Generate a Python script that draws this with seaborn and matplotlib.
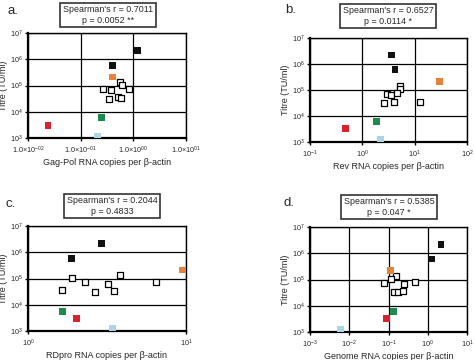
import matplotlib
matplotlib.use("Agg")
import matplotlib.pyplot as plt
import seaborn as sns
import pandas as pd
import numpy as np

sns.set_style("white")
plt.rcParams['font.family'] = ['Liberation Sans', 'DejaVu Sans']
plt.rcParams['mathtext.fontset'] = 'custom'
plt.rcParams['mathtext.rm'] = 'Liberation Sans'
plt.rcParams['mathtext.it'] = 'Liberation Sans'

# group order: black1, black2, orange, open x8, green, red, lightblue
groups = ["black", "black", "orange", "open", "open", "open", "open", "open",
          "open", "open", "open", "green", "red", "lightblue"]

gagpol_x = [1.19, 0.40, 0.40, 0.55, 0.60, 0.81, 0.26, 0.38, 0.35, 0.51, 0.59, 0.25, 0.024, 0.21]
gagpol_y = [2.1e6, 5.9e5, 2.1e5, 1.38e5, 1.05e5, 7.5e4, 7.1e4, 6.5e4, 3.0e4, 3.6e4, 3.3e4, 6.0e3, 3.1e3, 1.2e3]

rev_x = [3.6, 4.2, 30, 5.2, 5.2, 3.0, 3.5, 4.5, 2.6, 4.1, 12.8, 1.88, 0.47, 2.24]
rev_y = [2.2e6, 6.0e5, 2.1e5, 1.4e5, 1.05e5, 7.2e4, 6.4e4, 7.6e4, 3.1e4, 3.6e4, 3.4e4, 6.2e3, 3.2e3, 1.3e3]

rdpro_x = [2.91, 1.88, 9.55, 3.83, 1.90, 2.29, 3.21, 6.48, 1.64, 2.64, 3.52, 1.66, 2.02, 3.42]
rdpro_y = [2.1e6, 5.9e5, 2.1e5, 1.35e5, 1.06e5, 7.5e4, 6.4e4, 7.6e4, 3.6e4, 3.0e4, 3.3e4, 5.7e3, 3.1e3, 1.26e3]

genome_x = [2.18, 1.22, 0.115, 0.157, 0.117, 0.078, 0.255, 0.467, 0.142, 0.176, 0.236, 0.131, 0.087, 0.006]
genome_y = [2.2e6, 6.0e5, 2.2e5, 1.35e5, 1.06e5, 7.4e4, 6.6e4, 7.7e4, 3.2e4, 3.4e4, 3.7e4, 6.0e3, 3.2e3, 1.26e3]

panel_letters = ["a.", "b.", "c.", "d."]
xlabels = ["Gag-Pol RNA copies per β-actin", "Rev RNA copies per β-actin",
           "RDpro RNA copies per β-actin", "Genome RNA copies per β-actin"]
stats_text = ["Spearman's r = 0.7011\np = 0.0052 **",
              "Spearman's r = 0.6527\np = 0.0114 *",
              "Spearman's r = 0.2044\np = 0.4833",
              "Spearman's r = 0.5385\np = 0.047 *"]
xlims = [(1e-2, 1e1), (1e-1, 1e2), (1e0, 1e1), (1e-3, 1e1)]
ylabel = "Titre (TU/ml)"

palette = {"black": "#111111", "orange": "#E8823A", "green": "#1E8A50",
           "red": "#D8222E", "lightblue": "#A9D6E4"}

fig = plt.figure(figsize=(4.74, 3.6), dpi=100)
positions = [
    (28, 33, 186, 138),
    (310, 38, 467, 142),
    (28, 226, 186, 331),
    (310, 227, 467, 332),
]
W, H = 474, 360
datasets = [(gagpol_x, gagpol_y), (rev_x, rev_y), (rdpro_x, rdpro_y), (genome_x, genome_y)]
letter_pos = [(7, 11), (285, 10), (6, 204), (284, 203)]
box_pos = [(108, 15), (388, 16), (112, 206), (389, 207)]

for i, ((x0, y0, x1, y1), (xs, ys)) in enumerate(zip(positions, datasets)):
    ax = fig.add_axes([x0 / W, 1 - y1 / H, (x1 - x0) / W, (y1 - y0) / H])
    df = pd.DataFrame({"x": xs, "y": ys, "g": groups})
    filled = df[df.g != "open"]
    opened = df[df.g == "open"]
    ax.set_xscale("log")
    ax.set_yscale("log")
    sns.scatterplot(data=opened, x="x", y="y", ax=ax, marker="s", s=16,
                    color="white", edgecolor="black", linewidth=0.9, zorder=3)
    sns.scatterplot(data=filled, x="x", y="y", hue="g", palette=palette, ax=ax,
                    marker="s", s=24, linewidth=0, legend=False, zorder=4)
    ax.set_xlim(*xlims[i])
    ax.set_ylim(1e3, 1e7)
    ax.minorticks_off()
    ax.grid(True, which="major", color="black", linewidth=0.9)
    ax.set_axisbelow(True)
    for sp in ax.spines.values():
        sp.set_color("black")
        sp.set_linewidth(1.0)
    ax.spines["left"].set_linewidth(1.6)
    ax.spines["bottom"].set_linewidth(1.6)
    ax.set_yticks([1e3, 1e4, 1e5, 1e6, 1e7])
    ax.set_yticklabels([r"10$^{3}$", r"10$^{4}$", r"10$^{5}$", r"10$^{6}$", r"10$^{7}$"])
    lo, hi = xlims[i]
    xt = [10.0 ** k for k in range(int(round(np.log10(lo))), int(round(np.log10(hi))) + 1)]
    ax.set_xticks(xt)
    if i == 0:
        labs = []
        for v in xt:
            k = int(round(np.log10(v)))
            e = ("-%02d" % (-k)) if k < 0 else ("%02d" % k)
            labs.append(r"1.0×10$^{%s}$" % e)
        ax.set_xticklabels(labs)
    else:
        ax.set_xticklabels([r"10$^{%d}$" % int(round(np.log10(v))) for v in xt])
    ax.tick_params(axis="both", which="major", direction="out", length=2.5, width=1,
                   labelsize=5.2, pad=1, bottom=True, left=True, color="black")
    ax.tick_params(axis="x", pad=2)
    ax.set_xlabel(xlabels[i], fontsize=6.5, labelpad=2)
    ax.set_ylabel(ylabel, fontsize=6.5, labelpad=2)
    lx, ly = letter_pos[i]
    fig.text(lx / W, 1 - ly / H, panel_letters[i], fontsize=9.5, ha="left", va="center")
    bx, by = box_pos[i]
    fig.text(bx / W, 1 - by / H, stats_text[i], fontsize=6.4, ha="center", va="center",
             linespacing=1.15,
             bbox=dict(boxstyle="square,pad=0.3", facecolor="white",
                       edgecolor="#333333", linewidth=1.2))

fig.savefig("out.png", dpi=100)
